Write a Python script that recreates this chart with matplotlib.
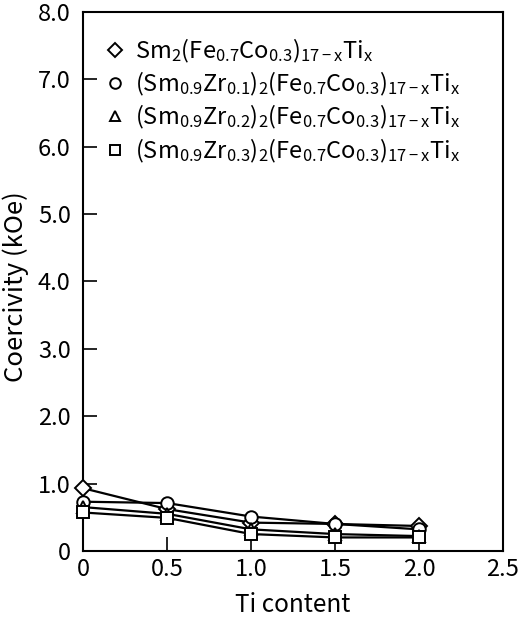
import matplotlib
matplotlib.use('Agg')
import matplotlib.pyplot as plt

plt.rcParams['font.family'] = ['Noto Sans CJK JP', 'DejaVu Sans']
plt.rcParams['mathtext.fontset'] = 'custom'
plt.rcParams['mathtext.rm'] = 'Noto Sans CJK JP'
plt.rcParams['mathtext.it'] = 'Noto Sans CJK JP'
plt.rcParams['mathtext.bf'] = 'Noto Sans CJK JP'
plt.rcParams['mathtext.default'] = 'regular'

# Ti content vs coercivity
ti = [0, 0.5, 1.0, 1.5, 2.0]
hc_zr0 = [0.93, 0.62, 0.42, 0.40, 0.37]
hc_zr1 = [0.73, 0.71, 0.51, 0.40, 0.32]
hc_zr2 = [0.65, 0.55, 0.32, 0.25, 0.22]
hc_zr3 = [0.57, 0.49, 0.25, 0.20, 0.20]

etiquetas = [
    r'Sm$_2$(Fe$_{0.7}$Co$_{0.3}$)$_{17-x}$Ti$_x$',
    r'(Sm$_{0.9}$Zr$_{0.1}$)$_2$(Fe$_{0.7}$Co$_{0.3}$)$_{17-x}$Ti$_x$',
    r'(Sm$_{0.9}$Zr$_{0.2}$)$_2$(Fe$_{0.7}$Co$_{0.3}$)$_{17-x}$Ti$_x$',
    r'(Sm$_{0.9}$Zr$_{0.3}$)$_2$(Fe$_{0.7}$Co$_{0.3}$)$_{17-x}$Ti$_x$',
]
marcadores = ['D', 'o', '^', 's']
series = [hc_zr0, hc_zr1, hc_zr2, hc_zr3]

xticks = [0, 0.5, 1.0, 1.5, 2.0, 2.5]
xticklabels = ['0', '0.5', '1.0', '1.5', '2.0', '2.5']
yticks = [0, 1, 2, 3, 4, 5, 6, 7, 8]
yticklabels = ['0', '1.0', '2.0', '3.0', '4.0', '5.0', '6.0', '7.0', '8.0']

fig = plt.figure(figsize=(5.2, 6.19), dpi=100)
ax = fig.add_axes([0.160, 0.110, 0.807, 0.871])

# lines first, then markers on top
for y in series:
    ax.plot(ti, y, color='black', lw=1.6, zorder=2)
handles = []
for y, m, lab in zip(series, marcadores, etiquetas):
    ms = 8 if m == 'D' else 9
    h, = ax.plot(ti, y, linestyle='none', marker=m, ms=ms, mfc='white',
                 mec='black', mew=1.4, zorder=3, label=lab, clip_on=False)
    handles.append(h)

ax.set_xlim(0, 2.5)
ax.set_ylim(0, 8)
ax.set_xticks(xticks)
ax.set_xticklabels(xticklabels)
ax.set_yticks(yticks)
ax.set_yticklabels(yticklabels)
ax.tick_params(direction='in', length=10, width=1.2, labelsize=17)
ax.tick_params(axis='y', pad=9)
ax.tick_params(axis='x', pad=5)
for s in ax.spines.values():
    s.set_linewidth(1.5)

ax.set_xlabel('Ti content', fontsize=17.5)
ax.set_ylabel('Coercivity (kOe)', fontsize=18.5)
ax.xaxis.set_label_coords(0.5, -0.076)
ax.yaxis.set_label_coords(-0.13, 0.49)

leg = ax.legend(handles=handles, loc='upper left', bbox_to_anchor=(0.01, 0.985),
                frameon=False, fontsize=17, handlelength=0.9, handletextpad=0.4,
                labelspacing=0.22, borderaxespad=0.3, markerscale=0.85)

plt.savefig('out.png', dpi=100)
